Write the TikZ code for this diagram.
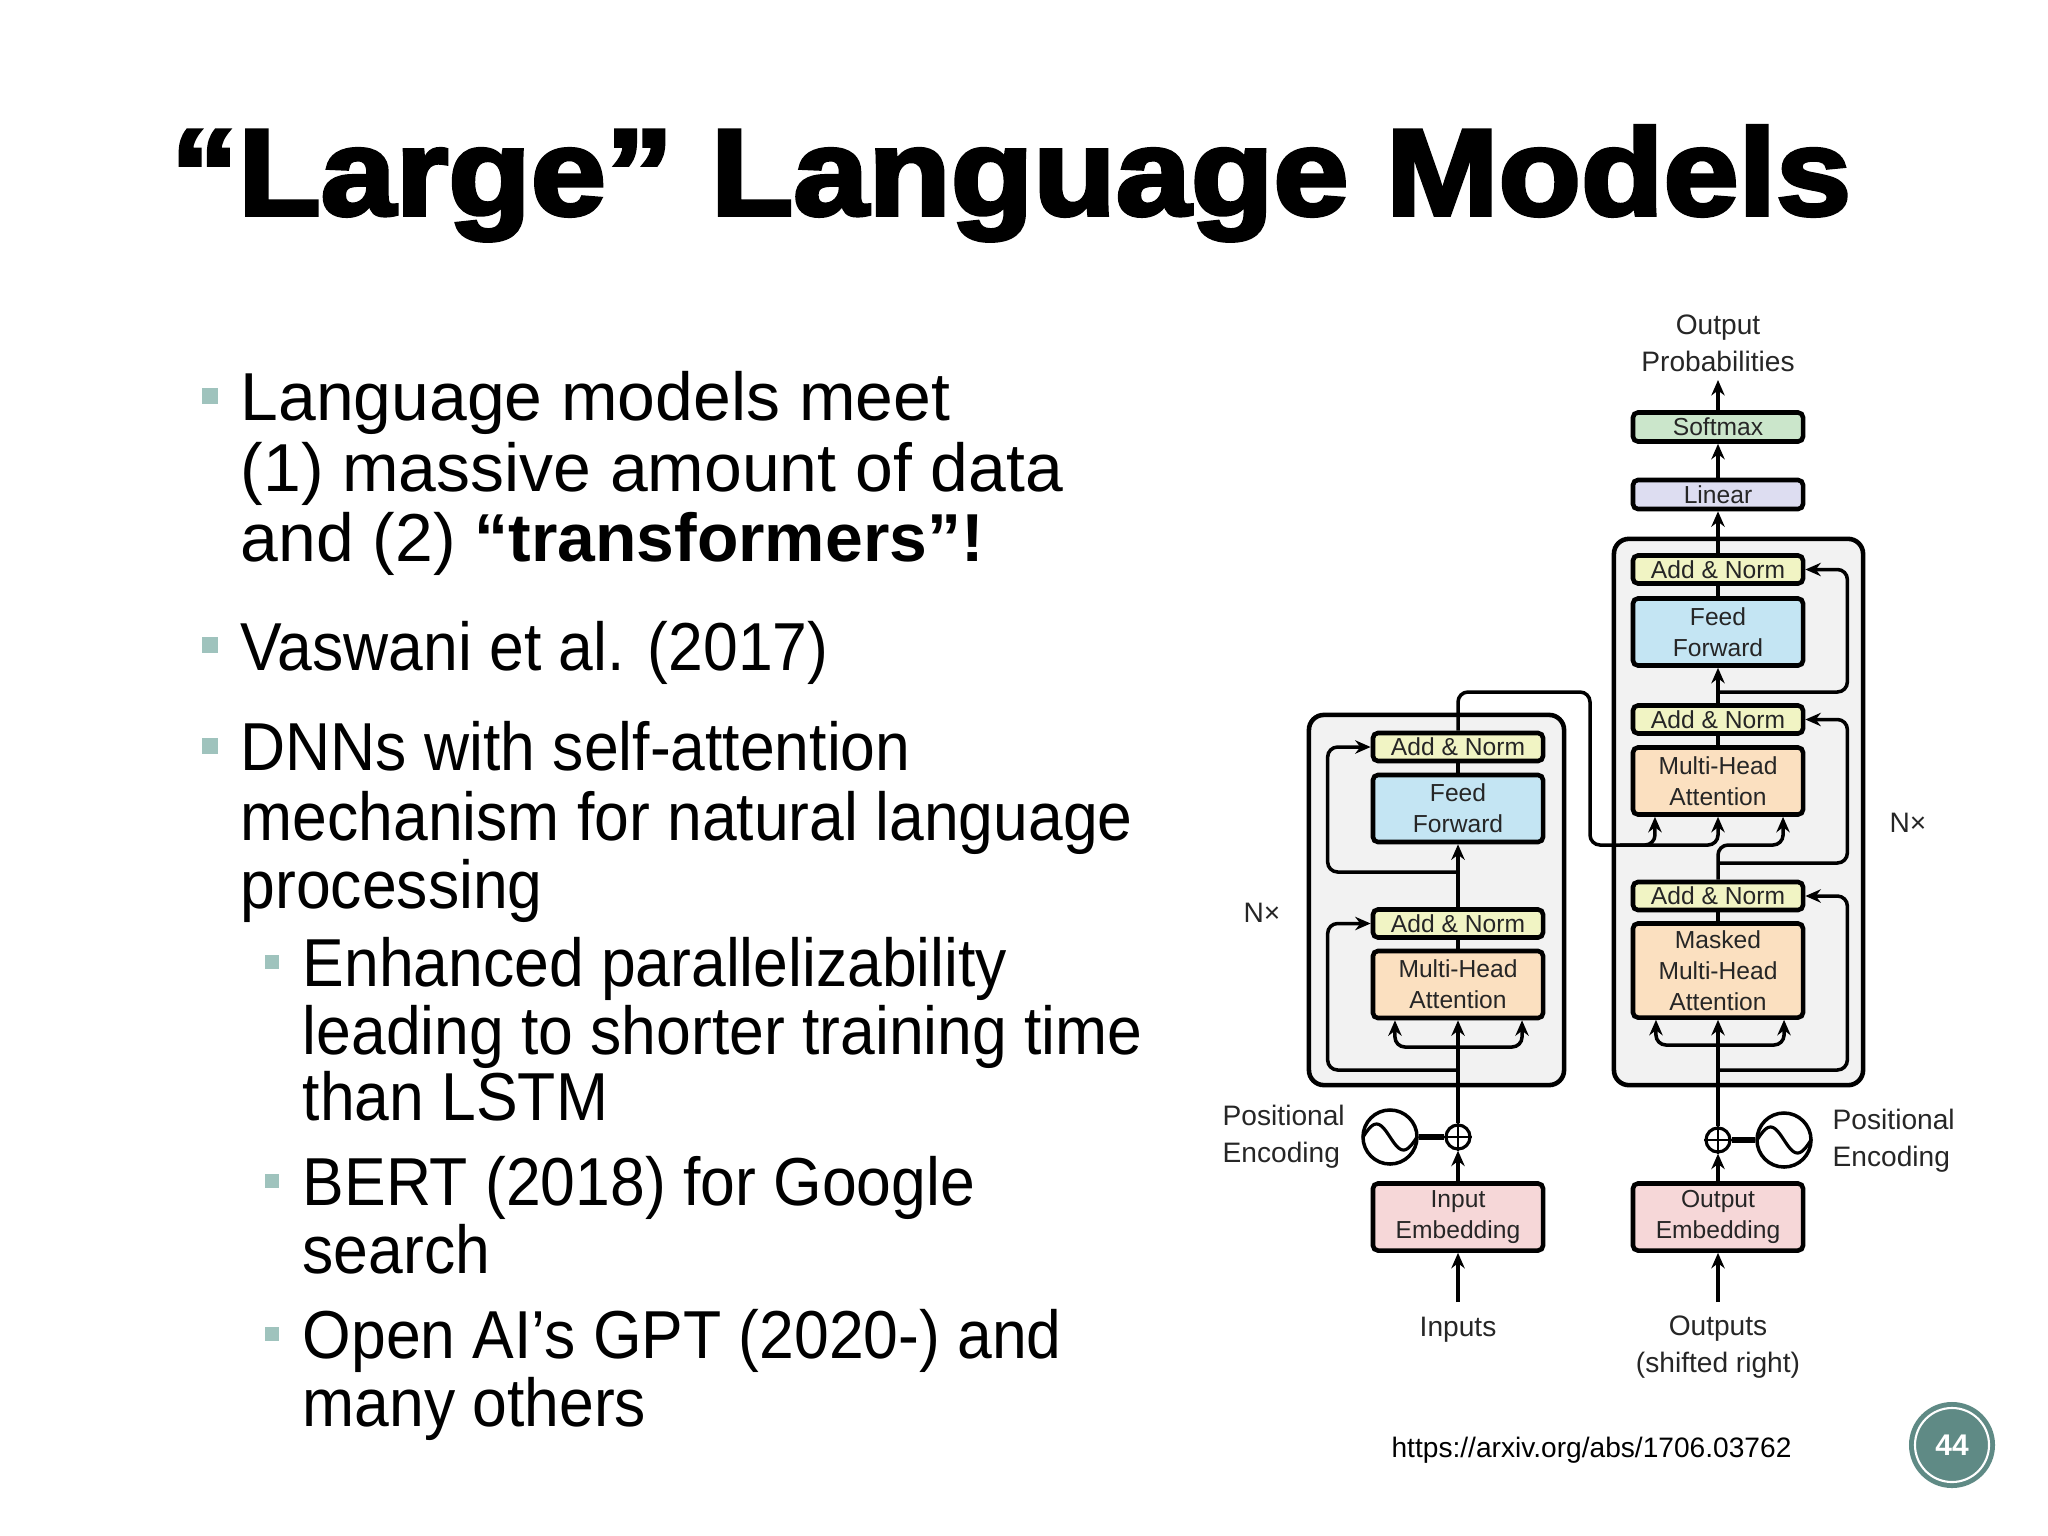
\documentclass[tikz,border=0pt]{standalone}
\usepackage{fontspec}
\setmainfont{Liberation Sans}
\newfontfamily\titlefont{Liberation Sans}[BoldFeatures={FakeBold=3}]
\usetikzlibrary{arrows.meta}

\definecolor{addcol}{HTML}{F1F4C4}
\definecolor{ffcol}{HTML}{C4E5F3}
\definecolor{attcol}{HTML}{FBE0C0}
\definecolor{embcol}{HTML}{F6D7D8}
\definecolor{lincol}{HTML}{DDDDF1}
\definecolor{smcol}{HTML}{CBE6CB}
\definecolor{layercol}{HTML}{F2F2F2}
\definecolor{bulletcol}{HTML}{9FC3BD}
\definecolor{pagecol}{HTML}{5F8A85}

\newcommand{\narrowtxt}[1]{\scalebox{0.92}[1]{#1}}

\begin{document}
\begin{tikzpicture}[x=0.01cm, y=-0.01cm, >={Stealth[length=4.4pt,width=3.8pt]},
    sublayer/.style={draw, line width=1.3pt, rounded corners=0.5mm, minimum width=1.70cm,
        inner sep=0pt, align=center, text=black!85, font=\fontsize{7}{8.9}\selectfont},
    addnorm/.style={sublayer, fill=addcol, minimum height=0.28cm},
    ffn/.style={sublayer, fill=ffcol, minimum height=0.67cm},
    attn/.style={sublayer, fill=attcol, minimum height=0.67cm},
    embed/.style={sublayer, fill=embcol, minimum height=0.67cm},
    layerbox/.style={draw, line width=1.3pt, fill=layercol, rounded corners=1.5mm, inner sep=0pt},
    plusnode/.style={circle, draw, line width=0.9pt, fill=white, minimum size=0.24cm, inner sep=0pt},
    pe/.style={circle, draw, line width=1pt, fill=white, minimum size=0.54cm, inner sep=0pt},
    link/.style={line width=1pt, rounded corners=1mm},
    flow/.style={link, ->},
    outtxt/.style={font=\fontsize{8}{10.5}\selectfont, text=black!85, inner sep=0pt},
    itemtxt/.style={font=\fontsize{19.3}{20}\selectfont, anchor=base west, inner sep=0pt},
    bulletsq/.style={fill=bulletcol, inner sep=0pt, minimum size=0.16cm},
    subsq/.style={bulletsq, minimum size=0.14cm}]

    % --- Page ---
    \fill[white] (0,0) rectangle (2048,1536);
    \useasboundingbox (0,0) rectangle (2048,1536);

    % --- Title ---
    \node[anchor=base west, inner sep=0pt, font=\titlefont\bfseries\fontsize{35}{40}\selectfont]
        (title) at (170,215) {\scalebox{1.097}[1]{“Large” Language Models}};

    % --- Bullets ---
    \node[bulletsq] (sq1) at (210,396) {};
    \node[itemtxt] (b1a) at (240,420.5) {Language models meet};
    \node[itemtxt] (b1b) at (240,491) {(1) massive amount of data};
    \node[itemtxt] (b1c) at (240,561.5) {and (2) \textbf{“transformers”!}};
    \node[bulletsq] (sq2) at (210,645) {};
    \node[itemtxt] (b2a) at (240,670) {\narrowtxt{Vaswani et al. (2017)}};
    \node[bulletsq] (sq3) at (210,745.5) {};
    \node[itemtxt] (b3a) at (240,770.5) {\narrowtxt{DNNs with self-attention}};
    \node[itemtxt] (b3b) at (240,840) {\narrowtxt{mechanism for natural language}};
    \node[itemtxt] (b3c) at (240,908) {\narrowtxt{processing}};
    % sub-bullets
    \node[subsq] (sq4) at (272,962) {};
    \node[itemtxt] (s1a) at (302,986) {\narrowtxt{Enhanced parallelizability}};
    \node[itemtxt] (s1b) at (302,1054) {\narrowtxt{leading to shorter training time}};
    \node[itemtxt] (s1c) at (302,1120.5) {\narrowtxt{than LSTM}};
    \node[subsq] (sq5) at (272,1181) {};
    \node[itemtxt] (s2a) at (302,1205) {\narrowtxt{BERT (2018) for Google}};
    \node[itemtxt] (s2b) at (302,1273) {\narrowtxt{search}};
    \node[subsq] (sq6) at (272,1334) {};
    \node[itemtxt] (s3a) at (302,1358) {\narrowtxt{Open AI’s GPT (2020-) and}};
    \node[itemtxt] (s3b) at (302,1426) {\narrowtxt{many others}};

    % --- Layer boxes (N x) ---
    \node[layerbox, minimum width=2.55cm, minimum height=3.70cm] (encBox) at (1436.5,900) {};
    \node[layerbox, minimum width=2.49cm, minimum height=5.46cm] (decBox) at (1738.5,812) {};
    \node[outtxt] (encN) at (1262,913) {N×};
    \node[outtxt] (decN) at (1908,823) {N×};

    % --- Encoder stack ---
    \node[embed] (inEmb) at (1458,1217) {Input\\Embedding};
    \node[attn] (encMHA) at (1458,984.5) {Multi-Head\\Attention};
    \node[addnorm] (encAN1) at (1458,923.5) {Add \& Norm};
    \node[ffn] (encFF) at (1458,808.5) {Feed\\Forward};
    \node[addnorm] (encAN2) at (1458,747) {Add \& Norm};

    % --- Decoder stack ---
    \node[embed] (outEmb) at (1718,1217) {Output\\Embedding};
    \node[attn, minimum height=0.94cm] (decMMHA) at (1718,970.5) {Masked\\Multi-Head\\Attention};
    \node[addnorm] (decAN1) at (1718,896) {Add \& Norm};
    \node[attn] (decMHA) at (1718,781) {Multi-Head\\Attention};
    \node[addnorm] (decAN2) at (1718,719.5) {Add \& Norm};
    \node[ffn] (decFF) at (1718,632) {Feed\\Forward};
    \node[addnorm] (decAN3) at (1718,569.5) {Add \& Norm};
    \node[sublayer, fill=lincol, minimum height=0.29cm] (linear) at (1718,494.5) {Linear};
    \node[sublayer, fill=smcol, minimum height=0.29cm] (softmax) at (1718,427) {Softmax};

    % --- Positional encoding ---
    \node[plusnode] (encPlus) at (1458,1137) {};
    \node[pe] (encPE) at (1390,1137) {};
    \node[plusnode] (decPlus) at (1718,1140) {};
    \node[pe] (decPE) at (1784,1140) {};
    \draw[line width=0.7pt] (encPlus.north) -- (encPlus.south) (encPlus.west) -- (encPlus.east);
    \draw[line width=0.7pt] (decPlus.north) -- (decPlus.south) (decPlus.west) -- (decPlus.east);
    \draw[line width=0.9pt, domain=-1:1, samples=40, smooth]
        plot ({1390+27*\x}, {1137+13*sin(180*\x)});
    \draw[line width=0.9pt, domain=-1:1, samples=40, smooth]
        plot ({1784+27*\x}, {1140+13*sin(180*\x)});
    \node[outtxt, anchor=west, align=left] (encPEtxt) at (1222,1137) {Positional\\Encoding};
    \node[outtxt, anchor=west, align=left] (decPEtxt) at (1832,1141) {Positional\\Encoding};

    % --- Outer labels ---
    \node[outtxt, align=center] (probTxt) at (1718,343) {Output\\Probabilities};
    \node[outtxt] (inTxt) at (1458,1330) {Inputs};
    \node[outtxt, align=center] (outTxt) at (1718,1347) {Outputs\\(shifted right)};

    % --- Junctions ---
    \coordinate (inTail) at (1458,1302);
    \coordinate (outTail) at (1718,1302);
    \coordinate (probTip) at (1718,380);
    \coordinate (encSplit) at (1458,1047);
    \coordinate (encRes1) at (1458,1070);
    \coordinate (encRes2) at (1458,872);
    \coordinate (memTop) at (1458,692);
    \coordinate (memBot) at (1590,845);
    \coordinate (memMid) at (1620,845);
    \coordinate (decQ) at (1718,845);
    \coordinate (decSplit) at (1718,1045);
    \coordinate (decRes1) at (1718,1070);
    \coordinate (decRes2) at (1718,863);
    \coordinate (decRes3) at (1718,692);

    % --- Encoder flow ---
    \draw[flow] (inTail) -- (inEmb.south);
    \draw[flow] (inEmb.north) -- (encPlus.south);
    \draw[link, line width=1.6pt] (encPE.east) -- (encPlus.west);
    \draw[flow] (encPlus.north) -- (encMHA.south);
    \draw[flow] (encSplit) -| ([xshift=-6.3mm]encMHA.south);
    \draw[flow] (encSplit) -| ([xshift=6.4mm]encMHA.south);
    \draw[flow] (encRes1) -| ([xshift=-4.3mm]encAN1.west) -- (encAN1.west);
    \draw[link] (encMHA.north) -- (encAN1.south);
    \draw[flow] (encAN1.north) -- (encFF.south);
    \draw[flow] (encRes2) -| ([xshift=-4.3mm]encAN2.west) -- (encAN2.west);
    \draw[link] (encFF.north) -- (encAN2.south);

    % --- Encoder output into decoder attention ---
    \draw[flow] (encAN2.north) -- (memTop) -| (memBot) -| ([xshift=-6.3mm]decMHA.south);
    \draw[flow] (memMid) -| (decMHA.south);

    % --- Decoder flow ---
    \draw[flow] (outTail) -- (outEmb.south);
    \draw[flow] (outEmb.north) -- (decPlus.south);
    \draw[link, line width=1.6pt] (decPE.west) -- (decPlus.east);
    \draw[flow] (decPlus.north) -- (decMMHA.south);
    \draw[flow] (decSplit) -| ([xshift=-6.2mm]decMMHA.south);
    \draw[flow] (decSplit) -| ([xshift=6.6mm]decMMHA.south);
    \draw[flow] (decRes1) -| ([xshift=4.2mm]decAN1.east) -- (decAN1.east);
    \draw[link] (decMMHA.north) -- (decAN1.south);
    \draw[flow] (decAN1.north) -- (decQ) -| ([xshift=6.5mm]decMHA.south);
    \draw[flow] (decRes2) -| ([xshift=4.2mm]decAN2.east) -- (decAN2.east);
    \draw[link] (decMHA.north) -- (decAN2.south);
    \draw[flow] (decAN2.north) -- (decFF.south);
    \draw[flow] (decRes3) -| ([xshift=4.2mm]decAN3.east) -- (decAN3.east);
    \draw[link] (decFF.north) -- (decAN3.south);
    \draw[flow] (decAN3.north) -- (linear.south);
    \draw[flow] (linear.north) -- (softmax.south);
    \draw[flow] (softmax.north) -- (probTip);

    % --- Footer ---
    \node[font=\fontsize{8}{10}\selectfont, inner sep=0pt] (url) at (1591.5,1450)
        {https://arxiv.org/abs/1706.03762};
    \node[circle, fill=pagecol, minimum size=0.86cm, inner sep=0pt, text=white,
        font=\bfseries\fontsize{8.5}{10}\selectfont] (page) at (1952,1445) {44};
    \draw[white, line width=0.6pt] (page.center) circle[radius=0.37cm];
\end{tikzpicture}
\end{document}
